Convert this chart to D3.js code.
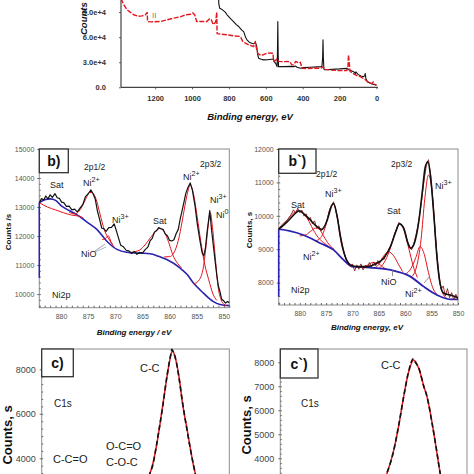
<!DOCTYPE html>
<html>
<head>
<meta charset="utf-8">
<script src="https://cdn.jsdelivr.net/npm/d3@7"></script>
<style>
  body { margin: 0; background: #fff; }
  svg { display: block; }
  text { font-family: "Liberation Sans", Arial, sans-serif; }
</style>
</head>
<body>
<svg id="chart" width="474" height="474"></svg>
<script>
// ---- data (binding energy eV, counts) ----
const surveyTicksX = [1200, 1000, 800, 600, 400, 200, 0]
const surveyTicksY = [0, 30000, 60000, 90000]
const surveyTickLabels = ['0.0', '3.0e+4', '6.0e+4', '9.0e+4']

const surveyBlack = [[1385,130000],[1100,125000],[900,118000],[870,120000],[858,140000],[855,100000],[850,94500],[840,93500],[820,90000],[810,86800],[790,82000],[775,78700],[760,75000],[747,72700],[730,68500],[720,66700],[710,60000],[702,56800],[690,54000],[676,52800],[665,52000],[657,53500],[650,50000],[644,39000],[639,34800],[625,33500],[612,32800],[590,33000],[570,33500],[558,33500],[553,30500],[545,28000],[539,24700],[537,40000],[535,78700],[533,40000],[531,24700],[500,24700],[470,25000],[449,24700],[440,25500],[430,24000],[413,22800],[400,23500],[360,24000],[320,24500],[296,24700],[292,35000],[290,56800],[288,35000],[285,21500],[281,21000],[240,21500],[200,22000],[160,22700],[150,21000],[124,18700],[115,16500],[112,18500],[100,15500],[85,13500],[70,12700],[64,14000],[61,16500],[58,11000],[50,6700],[30,4500],[15,3500],[0,2800]]

const surveyRed = [[1385,106000],[1370,99000],[1352,92800],[1330,89000],[1316,86800],[1290,85000],[1270,85500],[1253,86800],[1246,88500],[1243,89500],[1241,78700],[1220,78300],[1172,78700],[1140,80500],[1100,82800],[1060,84500],[1036,86800],[1005,87500],[995,89000],[985,86500],[975,78700],[945,78700],[919,78700],[905,82000],[895,80500],[885,75000],[872,78000],[866,90000],[864,64200],[840,63500],[810,62800],[770,61500],[738,60800],[725,55000],[711,52800],[690,50500],[666,48800],[660,52000],[657,55000],[652,48000],[644,40800],[630,38500],[612,39000],[593,40800],[575,41000],[561,40800],[558,31000],[548,32000],[540,34000],[530,31000],[504,30700],[480,31000],[468,30000],[460,27000],[449,26800],[438,31000],[430,30000],[420,29000],[413,30000],[404,22800],[380,22500],[340,22800],[305,22800],[295,23500],[289,25000],[283,21500],[240,20500],[200,20000],[165,19900],[155,21500],[152,38800],[148,30000],[143,19000],[120,15500],[100,13500],[88,12700],[60,9000],[40,5500],[26,4400],[18,6500],[12,4000],[5,2800],[0,2500]]

// Ni2p, sample b)
const bTicksX = [880, 875, 870, 865, 860, 855, 850]
const bTicksY = [10000, 11000, 12000, 13000, 14000, 15000]
const bExp = [[884.0,13150],[883.6,13290],[883.2,13240],[882.8,13380],[882.4,13280],[882.0,13420],[881.6,13330],[881.1,13460],[880.7,13320],[880.3,13300],[879.9,13170],[879.5,13150],[879.0,13020],[878.5,13030],[878.0,12900],[877.5,12930],[877.0,12830],[876.5,12960],[876.0,13080],[875.5,13360],[875.0,13450],[874.5,13590],[874.1,13460],[873.7,13280],[873.3,12870],[872.9,12580],[872.5,12270],[872.1,12250],[871.7,12160],[871.2,12290],[870.7,12300],[870.2,12420],[869.8,12180],[869.4,11930],[869.0,11680],[868.5,11630],[868.0,11510],[867.5,11490],[867.0,11400],[866.5,11470],[866.0,11370],[865.5,11440],[865.0,11410],[864.5,11530],[864.0,11620],[863.6,11830],[863.2,11920],[862.8,12130],[862.4,12190],[862.0,12290],[861.6,12250],[861.2,12230],[860.8,12070],[860.4,12010],[860.0,11850],[859.6,11830],[859.2,11870],[858.8,12080],[858.4,12230],[858.0,12630],[857.5,13040],[857.0,13480],[856.6,13680],[856.2,13830],[855.8,13580],[855.3,13020],[854.9,12420],[854.4,11830],[854.0,11420],[853.7,11320],[853.4,11580],[853.1,12130],[852.8,12570],[852.6,12880],[852.3,12270],[852.0,11770],[851.6,11120],[851.3,10640],[851.0,10270],[850.7,10070],[850.4,9820],[850.1,9780],[849.7,9690],[849.3,9740],[849.0,9700]]
const bBgEdge = [[884,10560],[884,13150]]
const bBg = [[884,13150],[883,13250],[882,13280],[881,13230],[880,13050],[878.5,12880],[877.1,12740],[875.2,12480],[873.4,12230],[871.6,11830],[869.7,11540],[867.9,11440],[865.5,11410],[863.6,11390],[862,11300],[860.5,11190],[858.1,10900],[856.8,10680],[855.6,10380],[853.8,10040],[852,9750],[850.7,9640],[849,9600]]
const bFitSatHi = [[884,13150],[882.5,13000],[881,12900],[879.5,12800],[878,12720],[876.5,12680],[875.8,12600]]
const bFitNi2pHi = [[878.5,12820],[877.5,12760],[876.5,12900],[875.5,13250],[874.8,13500],[874.3,13500],[873.5,13250],[872.8,12750],[872.0,12200],[871.2,11900],[870.5,11700]]
const bFitNiO = [[872.4,11880],[871.9,11900],[871.3,12010],[870.7,11760],[870.2,11620]]
const bFitSatLo = [[867,11440],[865.5,11520],[864.5,11700],[863.5,11950],[862.5,12170],[861.8,12260],[861,12150],[860.2,11800],[859.4,11350],[858.5,11050],[857.8,10900]]
const bFitNi2pLo = [[861,11280],[860,11290],[859,11500],[858.2,12000],[857.5,12700],[856.8,13400],[856.2,13760],[855.6,13450],[854.9,12650],[854.2,11750],[853.5,11000],[852.8,10500],[852,10000],[851.3,9780]]
const bFitNi3p = [[855.5,10350],[854.5,10500],[853.8,10900],[853.2,11800],[852.8,12500],[852.5,12800],[852.1,12300],[851.6,11300],[851.1,10300],[850.5,9800],[850,9650],[849.5,9600]]

// Ni2p, sample b`)
const bpTicksY = [8000, 9000, 10000, 11000, 12000]
const bpExp = [[884.0,9580],[883.6,9700],[883.2,9760],[882.8,9820],[882.4,9870],[882.0,9950],[881.6,10050],[881.2,10180],[880.8,10060],[880.4,10230],[880.0,10090],[879.6,10170],[879.2,9990],[878.8,10060],[878.4,9880],[878.0,9950],[877.6,9760],[877.2,9850],[876.8,9640],[876.4,9700],[876.0,9540],[875.6,9650],[875.2,9700],[874.8,9900],[874.4,10150],[874.0,10300],[873.6,10420],[873.2,10200],[872.8,9900],[872.4,9450],[872.0,9100],[871.6,8880],[871.2,8700],[870.8,8600],[870.4,8480],[870.0,8560],[869.6,8350],[869.2,8530],[868.8,8400],[868.4,8560],[868.0,8380],[867.6,8500],[867.2,8440],[866.8,8600],[866.4,8470],[866.0,8620],[865.6,8500],[865.2,8660],[864.8,8590],[864.4,8720],[864.0,8700],[863.6,8880],[863.2,8960],[862.8,9100],[862.4,9250],[862.0,9480],[861.6,9600],[861.2,9800],[860.8,9720],[860.4,9680],[860.0,9500],[859.6,9250],[859.2,9100],[858.8,8980],[858.4,9150],[858.0,9400],[857.6,9700],[857.2,10100],[856.8,10600],[856.4,11100],[856.0,11500],[855.6,11680],[855.2,11250],[854.8,10500],[854.4,9700],[854.0,8800],[853.6,8150],[853.2,7800],[852.8,7900],[852.4,7600],[852.0,7820],[851.6,7550],[851.2,7700],[850.8,7480],[850.4,7650],[850.0,7480]]
const bpEnvelope = [[884.0,9600],[882.4,9820],[880.5,10120],[880.2,10150],[878.6,9970],[876.7,9670],[875.8,9590],[874.8,9870],[873.9,10320],[873.6,10370],[872.9,9970],[872.3,9370],[871.4,8780],[870.4,8530],[869.2,8480],[867.3,8480],[865.4,8580],[864.1,8730],[862.8,9080],[861.9,9480],[861.1,9760],[860.3,9630],[859.5,9180],[859.0,9030],[858.4,9130],[857.4,9870],[856.8,10670],[856.2,11470],[855.7,11620],[855.2,11170],[854.6,10070],[854.0,8780],[853.4,7980],[852.7,7680],[851.5,7630],[850,7550]]
const bpBgEdge = [[884,7580],[884,9600]]
const bpBg = [[884,9600],[882,9550],[879.3,9425],[876.1,9180],[873.6,8980],[871.7,8680],[870.1,8480],[866.7,8450],[862.8,8380],[859,8180],[856.5,7880],[854,7630],[851.5,7500],[850,7500]]
const bpFitSatHi = [[884,9620],[883,9750],[882,9950],[881,10100],[880.3,10150],[879.5,10100],[878.5,9900],[877.5,9600],[876.5,9350],[875.5,9200],[874.5,9080]]
const bpFitNi2pHi = [[880,9400],[879,9420],[878,9530],[877,9630],[876.3,9600],[875.5,9400],[874.5,9150],[873.5,9000]]
const bpFitNi3pHi = [[877,9250],[876,9350],[875,9750],[874.3,10200],[873.6,10350],[872.9,9950],[872.2,9350],[871.5,8850],[870.8,8550],[870,8470]]
const bpFitSmall = [[868.5,8450],[867.2,8520],[866.2,8600],[865.2,8580],[864.3,8470],[863.5,8400]]
const bpFitNiO = [[866,8420],[865,8550],[864.2,8770],[863.2,8925],[862.2,8800],[861.3,8550],[860.5,8330]]
const bpFitSatLo = [[865,8420],[864,8600],[863,8950],[862,9450],[861.1,9775],[860.2,9550],[859.3,9000],[858.5,8500],[857.7,8150]]
const bpFitNi2pLo = [[860,8250],[859,8400],[858,8750],[857.2,9080],[856.4,8850],[855.6,8300],[854.8,7850],[854,7650]]
const bpFitNi3pLo = [[859,8150],[858,8400],[857,9300],[856.3,10500],[855.6,11220],[854.9,10700],[854.2,9200],[853.5,8100],[852.8,7650],[852,7520]]

// C1s
const cTicksY = [4000, 6000, 8000]
const cExp = [[289.5,750],[288.5,1150],[287.8,1850],[287.3,2450],[286.9,3150],[286.5,3750],[286.1,4950],[285.7,6250],[285.3,7750],[285.0,8650],[284.9,8900],[284.8,8800],[284.6,8520],[284.3,7650],[284.0,6550],[283.6,5250],[283.1,3820],[282.6,2650],[282.0,1850],[281.0,980],[280,720]]
const cFit = [[289.5,700],[288.5,1200],[287.8,1800],[287.3,2500],[286.9,3100],[286.5,3800],[286.1,4900],[285.7,6300],[285.3,7700],[285.0,8600],[284.85,8850],[284.6,8500],[284.3,7700],[284.0,6500],[283.6,5300],[283.1,3800],[282.6,2700],[282.0,1800],[281.0,1000],[280,700]]
const cpTicksY = [4000, 5000, 6000, 7000, 8000]
const cpExp = [[290,920],[289,1280],[288.2,2020],[287.5,2680],[286.86,3390],[286.3,4280],[285.8,5520],[285.43,6550],[285.0,7620],[284.6,8150],[284.5,8060],[284.1,7720],[283.7,6980],[283.43,6590],[283.0,5480],[282.6,4320],[282.29,3350],[281.7,2420],[281,1580],[280,1020]]
const cpFit = [[290,900],[289,1300],[288.2,2000],[287.5,2700],[286.86,3370],[286.3,4300],[285.8,5500],[285.43,6570],[285.0,7600],[284.57,8100],[284.1,7700],[283.7,7000],[283.43,6570],[283.0,5500],[282.6,4300],[282.29,3370],[281.7,2400],[281,1600],[280,1000]]

// ---- drawing ----
const svg = d3.select('#chart')
const RED = '#e3151d'
const BLUE = '#2b22b0'
const plain = d3.format('d')

function panel(cfg) {
  const x = d3.scaleLinear().domain(cfg.xDomain).range([cfg.left, cfg.right])
  const y = d3.scaleLinear().domain(cfg.yDomain).range([cfg.bottom, cfg.top])
  const g = svg.append('g')
  const line = (curve) => d3.line().x(d => x(d[0])).y(d => y(d[1])).curve(curve || d3.curveLinear)
  const path = (data, color, width, curve, dash) => {
    const p = g.append('path').datum(data).attr('d', line(curve)).attr('fill', 'none')
      .attr('stroke', color).attr('stroke-width', width).attr('stroke-linejoin', 'round')
    if (dash) p.attr('stroke-dasharray', dash)
    return p
  }
  return { x, y, g, path }
}

function styleAxis(sel, size, color, bold) {
  sel.select('.domain').remove()
  sel.selectAll('line').attr('stroke', '#666')
  sel.selectAll('text').attr('font-size', size).attr('fill', color)
    .attr('font-family', '"Liberation Sans", Arial, sans-serif')
    .attr('font-weight', bold ? 'bold' : 'normal')
}

function frame(p, top, bottom) {
  const [x0, x1] = p.x.range()
  p.g.append('rect').attr('x', x0).attr('y', top).attr('width', x1 - x0).attr('height', bottom - top)
    .attr('fill', 'none').attr('stroke', '#8c8c8c').attr('stroke-width', 1)
}

function tagBox(g, x, y, w, h, label) {
  g.append('rect').attr('x', x).attr('y', y).attr('width', w).attr('height', h)
    .attr('fill', '#fff').attr('stroke', '#333').attr('stroke-width', 1.3)
  g.append('text').attr('x', x + w / 2).attr('y', y + h / 2 + 5).attr('text-anchor', 'middle')
    .attr('font-family', '"Liberation Serif", "Times New Roman", serif').attr('font-weight', 'bold')
    .attr('font-size', 14).attr('fill', '#111').text(label)
}

function note(g, x, y, main, sup, size) {
  const t = g.append('text').attr('x', x).attr('y', y).attr('font-size', size || 9).attr('fill', '#222')
  t.append('tspan').text(main)
  if (sup) t.append('tspan').attr('dy', -4).attr('font-size', (size || 9) * 0.8).text(sup)
  return t
}

function vLabel(g, x, y, text, size) {
  g.append('text').attr('transform', `translate(${x},${y}) rotate(-90)`).attr('text-anchor', 'middle')
    .attr('font-weight', 'bold').attr('font-size', size).attr('fill', '#111').text(text)
}

// ---- panel a: survey ----
{
  const p = panel({ left: 121, right: 376.5, top: -20, bottom: 87.3, xDomain: [1385, 0], yDomain: [0, 128400] })
  p.path(surveyBlack, '#111', 1.1)
  p.path(surveyRed, RED, 1.4, null, '5,1.5')
  const ay = p.g.append('g').attr('transform', 'translate(121,0)')
    .call(d3.axisLeft(p.y).tickValues(surveyTicksY).tickSize(2).tickPadding(13).tickFormat((d, i) => surveyTickLabels[i]))
  styleAxis(ay, 7.5, '#333', true)
  const ax = p.g.append('g').attr('transform', 'translate(0,87.3)')
    .call(d3.axisBottom(p.x).tickValues(surveyTicksX).tickSize(2).tickPadding(6).tickFormat(plain))
  styleAxis(ax, 7.5, '#333', true)
  p.g.append('line').attr('x1', 121).attr('x2', 121).attr('y1', -5).attr('y2', 87.3).attr('stroke', '#444').attr('stroke-width', 1.2)
  p.g.append('line').attr('x1', 121).attr('x2', 378).attr('y1', 87.3).attr('y2', 87.3).attr('stroke', '#444').attr('stroke-width', 1.2)
  p.g.append('text').attr('x', 250).attr('y', 120).attr('text-anchor', 'middle').attr('font-size', 9.5)
    .attr('font-weight', 'bold').attr('font-style', 'italic').attr('fill', '#111').text('Binding energy, eV')
  p.g.append('text').attr('transform', 'translate(87,35) rotate(-90)').attr('font-size', 9.5)
    .attr('font-weight', 'bold').attr('font-style', 'italic').attr('fill', '#111').text('Counts')
  p.g.append('text').attr('x', 152).attr('y', 18).attr('font-size', 8).attr('fill', '#777').text('II')
}

// ---- panel b ----
{
  const p = panel({ left: 39.3, right: 229.3, top: 149, bottom: 307.7, xDomain: [884, 849], yDomain: [9530, 15000] })
  frame(p, 149, 307.7)
  const mx = p.g.append('g').attr('transform', 'translate(0,307.7)')
    .call(d3.axisTop(p.x).tickValues(d3.range(849, 885, 1)).tickSize(2).tickFormat(''))
  styleAxis(mx, 7, '#555')
  const ax = p.g.append('g').attr('transform', 'translate(0,307.7)')
    .call(d3.axisBottom(p.x).tickValues(bTicksX).tickSize(0).tickPadding(6).tickFormat(plain))
  styleAxis(ax, 7, '#555')
  const ay = p.g.append('g').attr('transform', 'translate(39.3,0)')
    .call(d3.axisLeft(p.y).tickValues(bTicksY).tickSize(2).tickPadding(3).tickFormat(plain))
  styleAxis(ay, 7, '#555')
  const my = p.g.append('g').attr('transform', 'translate(39.3,0)')
    .call(d3.axisRight(p.y).tickValues(d3.range(9600, 15000, 200)).tickSize(1.5).tickFormat(''))
  styleAxis(my, 7, '#555')

  p.path(bBgEdge, BLUE, 1.5)
  p.path(bBg, BLUE, 1.6, d3.curveMonotoneX)
  ;[bFitSatHi, bFitNi2pHi, bFitNiO, bFitSatLo, bFitNi2pLo, bFitNi3p].forEach(d => p.path(d, RED, 1, d3.curveMonotoneX))
  p.path(bExp, '#111', 1.2)

  tagBox(p.g, 39.3, 149, 29, 23.7, 'b)')
  note(p.g, 50, 188, 'Sat')
  note(p.g, 84, 170, '2p1/2', null, 8.5)
  note(p.g, 83, 186, 'Ni', '2+')
  note(p.g, 112, 223, 'Ni', '3+')
  note(p.g, 81, 257, 'NiO')
  p.g.append('line').attr('x1', 95).attr('y1', 251).attr('x2', 105).attr('y2', 244).attr('stroke', '#889').attr('stroke-width', 0.8)
  p.g.append('line').attr('x1', 95).attr('y1', 252).attr('x2', 106).attr('y2', 247).attr('stroke', '#8ab').attr('stroke-width', 0.8)
  note(p.g, 153, 224, 'Sat')
  note(p.g, 183, 180, 'Ni', '2+')
  note(p.g, 200, 167, '2p3/2', null, 8.5)
  note(p.g, 210, 203, 'Ni', '3+')
  note(p.g, 216, 218, 'Ni', '0')
  note(p.g, 52, 298, 'Ni2p')
  p.g.append('text').attr('x', 134).attr('y', 334.5).attr('text-anchor', 'middle').attr('font-size', 8)
    .attr('font-weight', 'bold').attr('font-style', 'italic').attr('fill', '#111').text('Binding energy / eV')
  vLabel(p.g, 11, 232, 'Counts /s', 8)
}

// ---- panel b` ----
{
  const p = panel({ left: 278.7, right: 458, top: 149, bottom: 305, xDomain: [884, 850], yDomain: [7330, 12000] })
  frame(p, 149, 305)
  const mx = p.g.append('g').attr('transform', 'translate(0,305)')
    .call(d3.axisTop(p.x).tickValues(d3.range(850, 885, 1)).tickSize(2).tickFormat(''))
  styleAxis(mx, 7, '#555')
  const ax = p.g.append('g').attr('transform', 'translate(0,305)')
    .call(d3.axisBottom(p.x).tickValues(bTicksX).tickSize(0).tickPadding(6).tickFormat(plain))
  styleAxis(ax, 7, '#555')
  const ay = p.g.append('g').attr('transform', 'translate(278.7,0)')
    .call(d3.axisLeft(p.y).tickValues(bpTicksY).tickSize(2).tickPadding(3).tickFormat(plain))
  styleAxis(ay, 7, '#555')
  const my = p.g.append('g').attr('transform', 'translate(278.7,0)')
    .call(d3.axisRight(p.y).tickValues(d3.range(7400, 12000, 200)).tickSize(1.5).tickFormat(''))
  styleAxis(my, 7, '#555')

  ;[bpFitSatHi, bpFitNi2pHi, bpFitNi3pHi, bpFitSmall, bpFitNiO, bpFitSatLo, bpFitNi2pLo, bpFitNi3pLo]
    .forEach(d => p.path(d, RED, 1, d3.curveMonotoneX))
  p.path(bpBgEdge, BLUE, 1.6)
  p.path(bpBg, BLUE, 1.8, d3.curveMonotoneX)
  p.path(bpExp, '#8e1a1a', 0.9)
  p.path(bpEnvelope, '#111', 1.6, d3.curveMonotoneX)

  tagBox(p.g, 278.7, 149, 37.3, 24.3, 'b`)')
  note(p.g, 316, 177, '2p1/2', null, 8.5)
  note(p.g, 325, 197, 'Ni', '3+')
  note(p.g, 291, 208, 'Sat')
  note(p.g, 303, 260, 'Ni', '2+')
  note(p.g, 291, 293, 'Ni2p')
  note(p.g, 391, 167, '2p3/2', null, 8.5)
  note(p.g, 387, 214, 'Sat')
  note(p.g, 381, 285, 'NiO')
  p.g.append('line').attr('x1', 392.5).attr('y1', 276).attr('x2', 392.5).attr('y2', 270).attr('stroke', '#777').attr('stroke-width', 0.8)
  note(p.g, 405, 297, 'Ni', '2+')
  p.g.append('line').attr('x1', 424).attr('y1', 283).attr('x2', 430).attr('y2', 276).attr('stroke', '#777').attr('stroke-width', 0.8)
  note(p.g, 435, 189, 'Ni', '3+')
  p.g.append('text').attr('x', 367).attr('y', 329.5).attr('text-anchor', 'middle').attr('font-size', 8)
    .attr('font-weight', 'bold').attr('font-style', 'italic').attr('fill', '#111').text('Binding energy, eV')
  vLabel(p.g, 252, 230, 'Counts, s', 8)
}

// ---- panel c ----
{
  const p = panel({ left: 41.7, right: 229.3, top: 349, bottom: 540, xDomain: [296, 280], yDomain: [328, 8912] })
  frame(p, 349, 540)
  const ay = p.g.append('g').attr('transform', 'translate(41.7,0)')
    .call(d3.axisLeft(p.y).tickValues(cTicksY).tickSize(2).tickPadding(4).tickFormat(plain))
  styleAxis(ay, 9, '#444')
  const my = p.g.append('g').attr('transform', 'translate(41.7,0)')
    .call(d3.axisRight(p.y).tickValues(d3.range(667, 8900, 333.3)).tickSize(1.5).tickFormat(''))
  styleAxis(my, 7, '#555')
  p.path(cFit, RED, 1.5, d3.curveMonotoneX)
  p.path(cExp, '#111', 1.6, d3.curveMonotoneX, '5,3')
  tagBox(p.g, 41.7, 349, 31.6, 27.7, 'c)')
  note(p.g, 140, 372, 'C-C', null, 11)
  note(p.g, 54, 407, 'C1s', null, 10)
  note(p.g, 106, 450, 'O-C=O', null, 11)
  note(p.g, 106, 465.5, 'C-O-C', null, 11)
  note(p.g, 53, 463, 'C-C=O', null, 11)
  vLabel(p.g, 12, 435, 'Counts, s', 13)
}

// ---- panel c` ----
{
  const p = panel({ left: 280.3, right: 467, top: 349, bottom: 540, xDomain: [296, 280], yDomain: [596, 8554] })
  frame(p, 349, 540)
  const ay = p.g.append('g').attr('transform', 'translate(280.3,0)')
    .call(d3.axisLeft(p.y).tickValues(cpTicksY).tickSize(2).tickPadding(4).tickFormat(plain))
  styleAxis(ay, 9, '#444')
  const my = p.g.append('g').attr('transform', 'translate(280.3,0)')
    .call(d3.axisRight(p.y).tickValues(d3.range(800, 8554, 200)).tickSize(1.5).tickFormat(''))
  styleAxis(my, 7, '#555')
  p.path(cpFit, RED, 1.5, d3.curveMonotoneX)
  p.path(cpExp, '#111', 1.6, d3.curveMonotoneX, '5,3')
  tagBox(p.g, 280.3, 349, 37.7, 29, 'c`)')
  note(p.g, 381, 369, 'C-C', null, 11)
  note(p.g, 301, 407, 'C1s', null, 10)
  vLabel(p.g, 251, 425, 'Counts, s', 13)
}
</script>
</body>
</html>
